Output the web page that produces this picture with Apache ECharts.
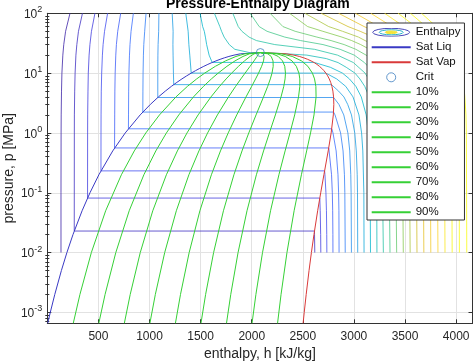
<!DOCTYPE html>
<html><head><meta charset="utf-8">
<script src="https://cdn.jsdelivr.net/npm/echarts@6/dist/echarts.min.js"></script>
<style>html,body{margin:0;padding:0;background:#fff}#c{width:474px;height:362px}</style>
</head><body><div id="c"></div>
<script>
// ---------- data (enthalpy h [kJ/kg], pressure p [MPa]) ----------
const xTicks = [500, 1000, 1500, 2000, 2500, 3000, 3500, 4000];
const yTicks = [0.001, 0.01, 0.1, 1, 10, 100];

// saturation dome
const satP  = [0.000657, 0.001, 0.002, 0.005, 0.01, 0.02, 0.05, 0.1, 0.2, 0.5, 1, 2, 3, 4, 5, 6, 7, 8, 9, 10, 11, 12, 13, 14, 15, 16, 17, 18, 19, 20, 21, 22.064];
const satHf = [4.2, 29.3, 73.4, 137.8, 191.8, 251.4, 340.5, 417.5, 504.7, 640.1, 762.5, 908.5, 1008.3, 1087.4, 1154.5, 1213.8, 1267.5, 1317.1, 1363.7, 1408.1, 1450.3, 1491.5, 1531.4, 1571.0, 1610.3, 1649.9, 1690.7, 1732.0, 1776.9, 1827.2, 1888.0, 2084.3];
const satHg = [2502.7, 2513.7, 2532.9, 2560.7, 2583.9, 2608.9, 2645.2, 2675.0, 2706.3, 2748.1, 2777.1, 2798.3, 2803.2, 2800.8, 2794.2, 2784.6, 2772.6, 2758.7, 2742.9, 2725.5, 2706.3, 2685.4, 2662.2, 2638.1, 2610.7, 2580.8, 2547.5, 2509.5, 2466.0, 2411.4, 2337.5, 2084.3];
const critH = 2084.3, critP = 22.064;

// constant-quality lines
const qualP = [0.000657, 0.002, 0.01, 0.05, 0.2, 0.5, 1, 2, 4, 6, 8, 10, 13, 16, 19, 21, 22.064];
const q10 = [254.0, 319.4, 431.0, 571.0, 724.9, 850.9, 964.0, 1097.5, 1258.7, 1370.9, 1461.3, 1539.8, 1644.5, 1743.0, 1845.8, 1933.0, 2084.3];
const q20 = [503.9, 565.3, 670.2, 801.4, 945.0, 1061.7, 1165.4, 1286.5, 1430.1, 1528.0, 1605.4, 1671.6, 1757.6, 1836.1, 1914.7, 1977.9, 2084.3];
const q30 = [753.7, 811.3, 909.4, 1031.9, 1165.2, 1272.5, 1366.9, 1475.4, 1601.4, 1685.0, 1749.6, 1803.3, 1870.7, 1929.2, 1983.6, 2022.9, 2084.3];
const q40 = [1003.6, 1057.2, 1148.6, 1262.4, 1385.3, 1483.3, 1568.3, 1664.4, 1772.8, 1842.1, 1893.7, 1935.1, 1983.8, 2022.3, 2052.5, 2067.8, 2084.3];
const q50 = [1253.4, 1303.2, 1387.9, 1492.9, 1605.5, 1694.1, 1769.8, 1853.4, 1944.1, 1999.2, 2037.9, 2066.8, 2097.0, 2115.4, 2121.5, 2112.8, 2084.3];
const q60 = [1503.3, 1549.1, 1627.1, 1723.3, 1825.7, 1904.9, 1971.3, 2042.4, 2115.4, 2156.3, 2182.1, 2198.5, 2210.1, 2208.4, 2190.4, 2157.7, 2084.3];
const q70 = [1753.1, 1795.1, 1866.3, 1953.8, 2045.8, 2115.7, 2172.7, 2231.4, 2286.8, 2313.4, 2326.2, 2330.3, 2323.2, 2301.5, 2259.3, 2202.7, 2084.3];
const q80 = [2003.0, 2041.0, 2105.5, 2184.3, 2266.0, 2326.5, 2374.2, 2420.3, 2458.1, 2470.4, 2470.4, 2462.0, 2436.3, 2394.6, 2328.2, 2247.6, 2084.3];
const q90 = [2252.8, 2287.0, 2344.7, 2414.7, 2486.1, 2537.3, 2575.6, 2609.3, 2629.5, 2627.5, 2614.5, 2593.8, 2549.4, 2487.7, 2397.1, 2292.6, 2084.3];
const qualNames = ['10%', '20%', '30%', '40%', '50%', '60%', '70%', '80%', '90%'];

// contour levels (temperature, deg C) and the contour paths [h, p]
const tempLevels = [32, 63, 94, 125, 156, 187, 218, 249, 280, 311, 342, 373, 404, 435, 466, 497, 528, 559, 590, 621, 652, 683, 714, 745, 776];
const iso32  = [[222,100],[179,50],[161,30],[152,20],[143,10],[139,5],[136,2],[135,1],[134,0.1],[134,0.01]];
const iso63  = [[344,100],[305,50],[289,30],[280,20],[272,10],[268,5],[265,2],[264.5,1],[263.7,0.0229],[2614,0.0229],[2614.5,0.02],[2617,0.01]];
const iso94  = [[466,100],[432,50],[417,30],[409,20],[401,10],[398,5],[395,2],[394.5,1],[393.8,0.0815],[2666,0.0815],[2670,0.05],[2674.5,0.02],[2676,0.01]];
const iso125 = [[590,100],[560,50],[546,30],[539,20],[532,10],[528,5],[526,2],[525.5,1],[525,0.232],[2713,0.232],[2716.5,0.2],[2726,0.1],[2731,0.05],[2734,0.02],[2735,0.01]];
const iso156 = [[718,100],[689,50],[676,30],[670,20],[664,10],[661,5],[659.5,2],[658.7,1],[658,0.561],[2754,0.561],[2757,0.5],[2781,0.2],[2788.5,0.1],[2792,0.05],[2794,0.02],[2794.6,0.01]];
const iso187 = [[842,100],[819.5,50],[809,30],[804,20],[798.7,10],[796,5],[794.5,2],[793.8,1.173],[2784,1.173],[2795,1],[2826,0.5],[2844,0.2],[2850,0.1],[2853,0.05],[2854.5,0.01]];
const iso218 = [[966,100],[952.7,50],[944,30],[940.4,20],[937,10],[935.4,5],[934.4,2.232],[2800.5,2.232],[2815,2],[2869.6,1],[2893.7,0.5],[2907,0.2],[2911,0.1],[2914.8,0.01]];
const iso249 = [[1092,100],[1089.6,50],[1084,30],[1082,20],[1081,10],[1081,3.91],[2801.4,3.91],[2853,3],[2900.6,2],[2940.8,1],[2959,0.5],[2969,0.2],[2972.5,0.1],[2975.5,0.01]];
const iso280 = [[1222,100],[1231,50],[1229,30],[1230.6,20],[1234,10],[1237,6.42],[2780,6.42],[2850,5],[2902,4],[2939,3],[2976,2],[3008,1],[3023,0.5],[3032,0.2],[3035,0.1],[3037,0.01]];
const iso311 = [[1355,100],[1378,50],[1385,30],[1394,20],[1408,10],[2725,10],[2831,8],[2920,6],[2991,4],[3049,2],[3075,1],[3087,0.5],[3097,0.1],[3099,0.01]];
const iso342 = [[1495,100],[1520,60],[1536,50],[1547,40],[1559,30],[1583,20],[1613,15.1],[2611,15.1],[2770,12.5],[2888,10],[2956,8],[3019,6],[3072,4],[3120,2],[3141,1],[3152,0.5],[3159,0.1],[3162,0.01]];
const iso373 = [[1635,100],[1688,60],[1705,50],[1730,40],[1780,30],[1835,25],[1990,21.82],[2185,21.82],[2540,20],[2730,17.5],[2845,15],[2925,12.5],[3010,10],[3058,8],[3106,6],[3149,4],[3189,2],[3207,1],[3216,0.5],[3223,0.1],[3225,0.01]];
// supercritical levels share one pressure list
const superP = [100, 60, 50, 40, 35, 30, 25, 20, 15, 10, 6, 4, 2, 1, 0.01];
const iso404 = [1815, 1868, 1904, 1974, 2046, 2225, 2615, 2839, 2995, 3109, 3188, 3224, 3257, 3273, 3288];
const iso435 = [1985, 2073, 2150, 2324, 2478, 2697, 2865, 3003, 3103, 3199, 3266, 3296, 3325, 3340, 3353];
const iso466 = [2180, 2305, 2425, 2638, 2776, 2904, 3019, 3119, 3207, 3286, 3343, 3368, 3393, 3406, 3418];
const iso497 = [2370, 2547, 2696, 2883, 2978, 3066, 3153, 3230, 3302, 3367, 3416, 3439, 3462, 3473, 3483];
const iso528 = [2520, 2753, 2889, 3045, 3109, 3190, 3263, 3328, 3387, 3445, 3489, 3510, 3531, 3541, 3550];
const iso559 = [2680, 2942, 3061, 3190, 3231, 3306, 3367, 3422, 3472, 3523, 3562, 3581, 3600, 3609, 3617];
const iso590 = [2850, 3100, 3202, 3311, 3354, 3410, 3463, 3510, 3556, 3601, 3635, 3652, 3668, 3677, 3684];
const iso621 = [3015, 3241, 3329, 3422, 3460, 3509, 3554, 3596, 3637, 3677, 3708, 3723, 3738, 3746, 3752];
const iso652 = [3165, 3372, 3449, 3528, 3559, 3605, 3643, 3680, 3716, 3753, 3781, 3795, 3809, 3815, 3822];
const iso683 = [3300, 3489, 3557, 3625, 3657, 3696, 3729, 3765, 3796, 3828, 3854, 3867, 3880, 3885, 3891];
const iso714 = [3433, 3601, 3661, 3720, 3751, 3785, 3813, 3844, 3874, 3904, 3928, 3939, 3951, 3956, 3961];
const iso745 = [3553, 3705, 3759, 3812, 3840, 3871, 3896, 3925, 3952, 3980, 4002, 4012, 4024, 4028, 4032];
const iso776 = [3661, 3805, 3857, 3903, 3928, 3957, 3979, 4005, 4030, 4056, 4076, 4085, 4096, 4100, 4104];

// ---------- build ----------
const subPaths = [iso32, iso63, iso94, iso125, iso156, iso187, iso218, iso249, iso280, iso311, iso342, iso373];
const superPaths = [iso404, iso435, iso466, iso497, iso528, iso559, iso590, iso621, iso652, iso683, iso714, iso745, iso776]
  .map(hs => hs.map((h, i) => [h, superP[i]]));
const isoPaths = subPaths.concat(superPaths);

const parulaStops = [[62,38,168],[71,71,235],[62,111,255],[39,150,235],[8,181,208],[49,198,159],[129,204,89],[220,189,41],[252,207,48],[249,251,21]];
function parula(t) {
  t = Math.max(0, Math.min(1, t));
  const f = t * (parulaStops.length - 1), i = Math.min(Math.floor(f), parulaStops.length - 2), r = f - i;
  const a = parulaStops[i], b = parulaStops[i + 1];
  return 'rgb(' + [0,1,2].map(k => Math.round(a[k] + (b[k] - a[k]) * r)).join(',') + ')';
}
const cMin = 32, cMax = 720;

const series = [];
isoPaths.forEach((pts, k) => {
  const col = parula((tempLevels[k] - cMin) / (cMax - cMin));
  series.push({
    type: 'line', name: 'Enthalpy', data: pts, symbol: 'none', silent: true,
    lineStyle: { width: 1, color: col, opacity: 0.8 }, itemStyle: { color: col }, z: 2
  });
});
series.push({ type: 'line', name: 'Sat Liq', data: satP.map((p, i) => [satHf[i], p]), symbol: 'none', silent: true,
  lineStyle: { width: 1, color: '#3a3ac4' }, itemStyle: { color: '#3a3ac4' }, z: 3 });
series.push({ type: 'line', name: 'Sat Vap', data: satP.map((p, i) => [satHg[i], p]), symbol: 'none', silent: true,
  lineStyle: { width: 1, color: '#d93a3a' }, itemStyle: { color: '#d93a3a' }, z: 3 });
series.push({ type: 'scatter', name: 'Crit', data: [[critH, critP]], symbol: 'circle', symbolSize: 8, silent: true,
  itemStyle: { color: 'rgba(255,255,255,0)', borderColor: '#3f7fc0', borderWidth: 1 }, z: 5 });
[q10, q20, q30, q40, q50, q60, q70, q80, q90].forEach((q, k) => {
  series.push({ type: 'line', name: qualNames[k], data: qualP.map((p, i) => [q[i], p]), symbol: 'none', silent: true,
    lineStyle: { width: 1, color: '#36d036' }, itemStyle: { color: '#36d036' }, z: 4 });
});

const minorVals = [];
for (let d = -4; d <= 1; d++) for (let m = 2; m <= 9; m++) { const v = m * Math.pow(10, d); if (v > 0.000657 && v < 100) minorVals.push(+v.toPrecision(3)); }

const svgIcon = '<svg xmlns="http://www.w3.org/2000/svg" width="39" height="9" viewBox="0 0 39 9">' +
  '<ellipse cx="19.5" cy="4.5" rx="18.5" ry="4" fill="none" stroke="#4a4ab8" stroke-width="1"/>' +
  '<ellipse cx="19.5" cy="4.5" rx="12" ry="2.5" fill="none" stroke="#2ab0c8" stroke-width="1"/>' +
  '<ellipse cx="19.5" cy="4.5" rx="6" ry="1.3" fill="#f2e43a" stroke="#f2e43a" stroke-width="1"/></svg>';
const iconURI = 'image://data:image/svg+xml;charset=utf-8,' + encodeURIComponent(svgIcon);

const axisCol = '#333333', txtCol = '#262626', gridCol = '#e2e2e2';
const FONT = 'Liberation Sans, Arial, Helvetica, sans-serif';
const noSym = { opacity: 0 };

const option = {
  animation: false,
  textStyle: { fontFamily: FONT },
  title: { text: 'Pressure-Enthalpy Diagram', left: 166, top: -3, padding: 0,
    textStyle: { fontSize: 14, fontWeight: 'bold', color: '#000', fontFamily: FONT } },
  grid: { left: 47.3, right: 1.5, top: 13.3, bottom: 38.7, containLabel: false, outerBoundsMode: 'none' },
  xAxis: [
    { type: 'value', min: 0, max: 4160, interval: 500, position: 'bottom',
      name: 'enthalpy, h [kJ/kg]', nameLocation: 'middle', nameGap: 23,
      nameTextStyle: { fontSize: 14, color: txtCol, fontFamily: FONT },
      axisLine: { show: true, onZero: false, lineStyle: { color: axisCol, width: 1 } },
      axisTick: { show: true, inside: true, length: 4, lineStyle: { color: axisCol } },
      axisLabel: { fontSize: 12, color: txtCol, margin: 7, fontFamily: FONT,
        formatter: v => (xTicks.indexOf(Math.round(v)) >= 0 ? String(Math.round(v)) : '') },
      splitLine: { show: true, lineStyle: { color: gridCol, width: 1 } } },
    { type: 'value', min: 0, max: 4160, interval: 500, position: 'top',
      axisLine: { show: true, onZero: false, lineStyle: { color: axisCol, width: 1 } },
      axisTick: { show: true, inside: true, length: 4, lineStyle: { color: axisCol } },
      axisLabel: { show: false }, splitLine: { show: false } }
  ],
  yAxis: [
    { type: 'log', logBase: 10, min: 0.000657, max: 100, position: 'left',
      name: 'pressure, p [MPa]', nameLocation: 'middle', nameGap: 31, nameRotate: 90, nameMoveOverlap: false,
      nameTextStyle: { fontSize: 14, color: txtCol, fontFamily: FONT },
      axisLine: { show: true, onZero: false, lineStyle: { color: axisCol, width: 1 } },
      axisTick: { show: true, inside: true, length: 4, lineStyle: { color: axisCol } },
      axisLabel: { color: txtCol, margin: 5, fontFamily: FONT,
        formatter: v => {
          const e = Math.log10(v), r = Math.round(e);
          if (Math.abs(e - r) > 1e-6 || !yTicks.some(t => Math.abs(Math.log10(t) - r) < 1e-9)) return '';
          return '{b|10}{e|' + r + '}';
        },
        rich: { b: { fontSize: 12, color: txtCol, padding: [2.6, 0, 0, 0], fontFamily: FONT },
                e: { fontSize: 9, color: txtCol, padding: [0, 0, 7, 0], fontFamily: FONT } } },
      splitLine: { show: true, lineStyle: { color: gridCol, width: 1 } } },
    { type: 'log', logBase: 10, min: 0.000657, max: 100, position: 'right',
      axisLine: { show: true, onZero: false, lineStyle: { color: axisCol, width: 1 } },
      axisTick: { show: true, inside: true, length: 4, lineStyle: { color: axisCol } },
      axisLabel: { show: false }, splitLine: { show: false } },
    { type: 'log', logBase: 10, min: 0.000657, max: 100, position: 'left',
      axisLine: { show: false }, axisLabel: { show: false }, splitLine: { show: false },
      axisTick: { show: true, inside: true, length: 2, customValues: minorVals, lineStyle: { color: axisCol } } },
    { type: 'log', logBase: 10, min: 0.000657, max: 100, position: 'right',
      axisLine: { show: false }, axisLabel: { show: false }, splitLine: { show: false },
      axisTick: { show: true, inside: true, length: 2, customValues: minorVals, lineStyle: { color: axisCol } } }
  ],
  legend: {
    orient: 'vertical', left: 367, top: 23, itemWidth: 39, itemHeight: 9, itemGap: 3,
    padding: [3.3, 4, 1.7, 3.7], backgroundColor: '#fff', borderColor: '#333', borderWidth: 1,
    selectedMode: false,
    textStyle: { fontSize: 11.5, lineHeight: 12, color: '#111', fontFamily: FONT },
    data: [{ name: 'Enthalpy', icon: iconURI },
           { name: 'Sat Liq', itemStyle: noSym }, { name: 'Sat Vap', itemStyle: noSym },
           { name: 'Crit', icon: 'circle', itemStyle: { color: 'rgba(255,255,255,0)', borderColor: '#3f7fc0', borderWidth: 1 } }]
      .concat(qualNames.map(n => ({ name: n, itemStyle: noSym })))
  },
  series: series
};

const chart = echarts.init(document.getElementById('c'), null, { renderer: 'canvas', width: 474, height: 362 });
chart.setOption(option);
</script></body></html>
